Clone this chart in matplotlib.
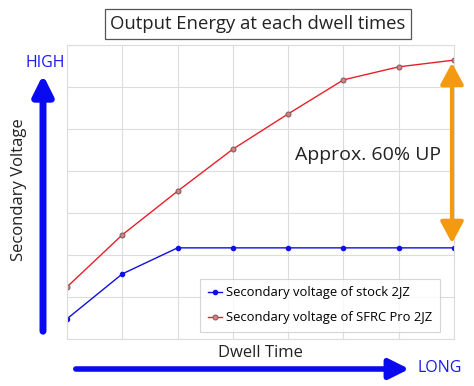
import matplotlib
matplotlib.use("Agg")
import matplotlib.pyplot as plt
from matplotlib.patches import FancyArrowPatch

plt.rcParams['font.family'] = ['Open Sans', 'DejaVu Sans']

dwell_steps = [0, 1, 2, 3, 4, 5, 6, 7]
stock_voltage = [0.48, 1.55, 2.17, 2.17, 2.17, 2.17, 2.17, 2.17]
sfrc_voltage = [1.24, 2.48, 3.52, 4.52, 5.36, 6.17, 6.48, 6.64]
series_labels = ["Secondary voltage of stock 2JZ", "Secondary voltage of SFRC Pro 2JZ"]

W, H = 474, 386
fig = plt.figure(figsize=(W / 100, H / 100), dpi=100)
ax = fig.add_axes([67 / W, 1 - 339 / H, (454 - 67) / W, (339 - 45) / H])

ax.plot(dwell_steps, stock_voltage, color='#1010e0', lw=1.0, marker='o', ms=3,
        mfc='#1010e0', mec='#1010e0', label=series_labels[0])
ax.plot(dwell_steps, sfrc_voltage, color='#e8202a', lw=1.0, marker='o', ms=3.5,
        mfc='#d88080', mec='#806060', mew=0.8, label=series_labels[1])

ax.set_xlim(0, 7)
ax.set_ylim(0, 7)
ax.set_xticks(range(8))
ax.set_yticks(range(8))
ax.tick_params(length=0, labelbottom=False, labelleft=False)
ax.grid(True, color='#dcdcdc', lw=0.8)
for s in ax.spines.values():
    s.set_color('#dcdcdc')
    s.set_linewidth(0.8)

leg = ax.legend(loc='lower right', bbox_to_anchor=(440 / W, 1 - 332 / H, 0, 0),
                bbox_transform=fig.transFigure, fontsize=9.4, frameon=True,
                fancybox=False, edgecolor='#cccccc', handlelength=1.1,
                handletextpad=0.3, borderpad=0.6, labelspacing=0.9, borderaxespad=0)
leg.get_frame().set_linewidth(0.8)

def fx(px):
    return px / W

def fy(py):
    return 1 - py / H

# Title box
fig.text(fx(258), fy(24), "Output Energy at each dwell times", ha='center', va='center',
         fontsize=13.3, color='#222222',
         bbox=dict(boxstyle='square,pad=0.3', fc='white', ec='#555555', lw=0.9))

# Blue vertical arrow
fig.patches.append(FancyArrowPatch((fx(43), fy(334)), (fx(43), fy(72)),
                                   transform=fig.transFigure, arrowstyle='-|>,head_width=6,head_length=12',
                                   mutation_scale=1, color='#0a0af0', lw=5))
fig.text(fx(45), fy(63), "HIGH", ha='center', va='center', fontsize=11.5, color='#1a1af0')
fig.text(fx(19), fy(190), "Secondary Voltage", ha='center', va='center', rotation=90,
         fontsize=12, color='#222222')

# Blue horizontal arrow
fig.patches.append(FancyArrowPatch((fx(73), fy(369)), (fx(412), fy(369)),
                                   transform=fig.transFigure, arrowstyle='-|>,head_width=6,head_length=12',
                                   mutation_scale=1, color='#0a0af0', lw=4))
fig.text(fx(440), fy(368), "LONG", ha='center', va='center', fontsize=11.5, color='#1a1af0')
fig.text(fx(260), fy(353), "Dwell Time", ha='center', va='center', fontsize=12, color='#222222')

# Orange double arrow
fig.patches.append(FancyArrowPatch((fx(452), fy(246)), (fx(452), fy(60)),
                                   transform=fig.transFigure,
                                   arrowstyle='<|-|>,head_width=7,head_length=13',
                                   mutation_scale=1, color='#f39a10', lw=3))
fig.text(fx(368), fy(155), "Approx. 60% UP", ha='center', va='center', fontsize=14, color='#222222')

fig.savefig("out.png", dpi=100)
